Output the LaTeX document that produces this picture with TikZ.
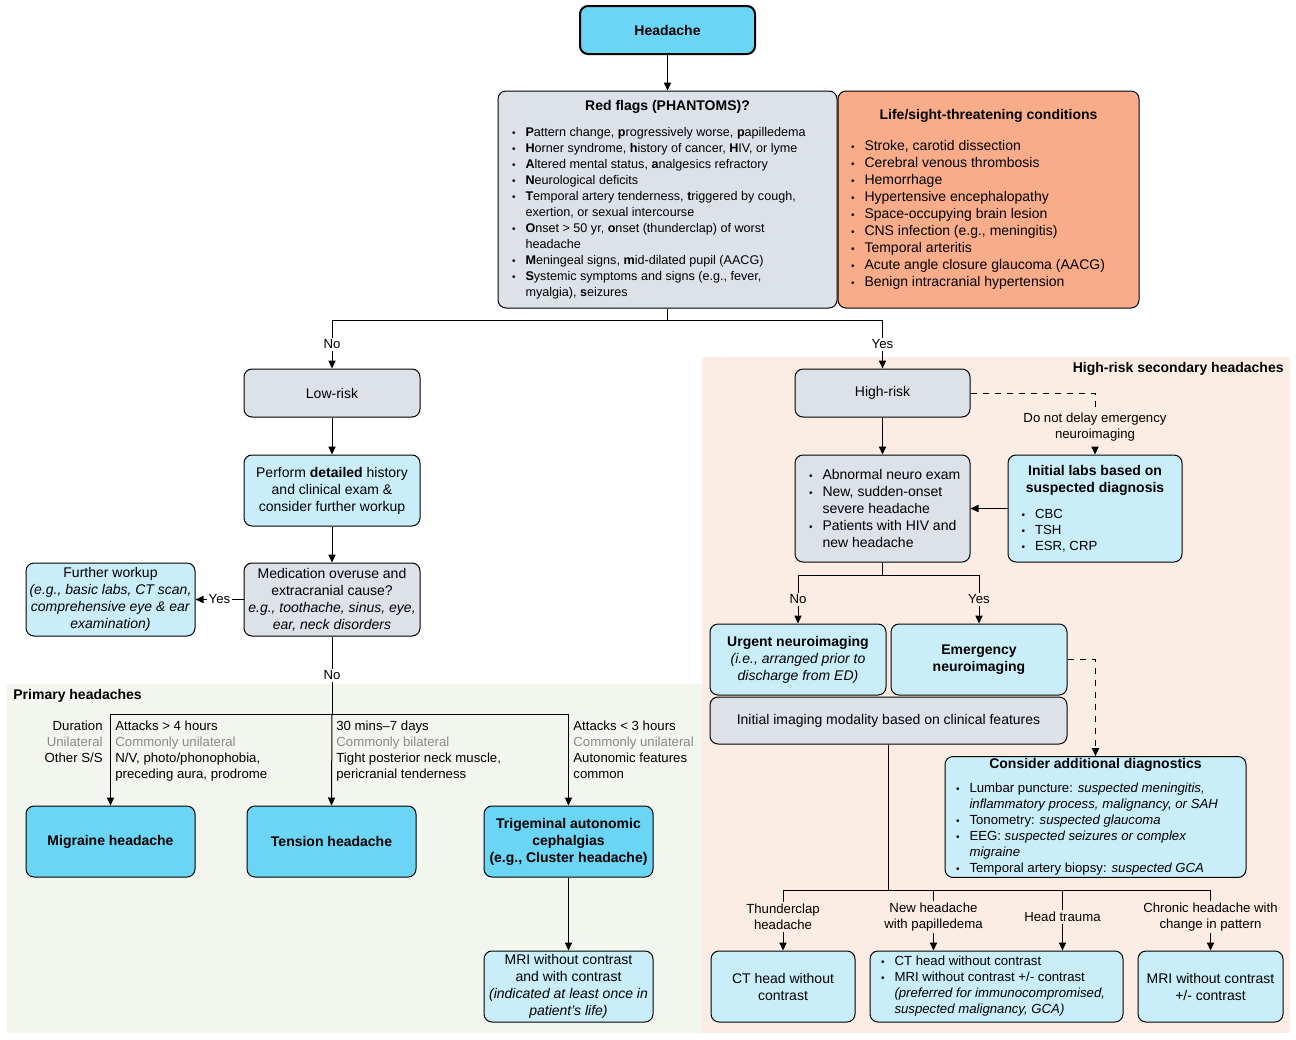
\documentclass[tikz,border=0pt]{standalone}
\usepackage{fontspec}
\setmainfont{Liberation Sans}
\usepackage{enumitem}
\usetikzlibrary{positioning,arrows.meta,backgrounds}

\definecolor{greyfill}{HTML}{DDE1E8}
\definecolor{paleblue}{HTML}{C9EEFA}
\definecolor{cyanbox}{HTML}{6BD5F5}
\definecolor{orangebox}{HTML}{F9AC8A}
\definecolor{pinkbg}{HTML}{FCEDE4}
\definecolor{greenbg}{HTML}{F3F6EF}
\definecolor{softgrey}{HTML}{8A8A8A}

\newcommand{\fs}{\fontsize{7}{8.5}\selectfont}
\newcommand{\fss}{\fontsize{6.3}{8}\selectfont}
\newcommand{\fsn}{\fontsize{6.6}{8}\selectfont}
\newcommand{\blist}[2][7pt]{\begin{itemize}[leftmargin=#1,itemsep=0pt,topsep=0pt,parsep=0pt,partopsep=0pt,label={\tiny\textbullet}]#2\end{itemize}}

\tikzset{
  box/.style={draw, rounded corners=4pt, line width=0.5pt, align=center, inner sep=1pt, font=\fs},
  grey/.style={box, fill=greyfill},
  pale/.style={box, fill=paleblue},
  strong/.style={box, fill=cyanbox, font=\fs\bfseries},
  arr/.style={-{Triangle[length=4pt,width=3.6pt]}, line width=0.5pt},
  lab/.style={font=\fsn, fill=white, inner sep=1pt, align=center},
  note/.style={font=\fsn, inner sep=0pt, align=left}
}

\begin{document}
\begin{tikzpicture}[x=0.5pt,y=-0.5pt]
\useasboundingbox (0,0) rectangle (1296,1039);

% shaded regions
\fill[pinkbg] (702,357) rectangle (1290,1033);
\fill[greenbg] (7,684) rectangle (702,1033);
\node[font=\fs\bfseries, anchor=north east, inner sep=0pt] (hrtitle) at (1284,362) {High-risk secondary headaches};
\node[font=\fs\bfseries, anchor=north west, inner sep=0pt] (primtitle) at (13,689) {Primary headaches};

% top
\node[strong, line width=1pt, minimum width=87.5pt, minimum height=24pt] (head) at (667.5,30) {Headache};
\node[grey, minimum width=169.5pt, minimum height=108.5pt] (flags) at (667.5,199.5) {\begin{minipage}{158pt}\centering
  \textbf{Red flags (PHANTOMS)?}\par\vspace{5pt}\fss\raggedright
  \blist[8pt]{
  \item \textbf{P}attern change, \textbf{p}rogressively worse, \textbf{p}apilledema
  \item \textbf{H}orner syndrome, \textbf{h}istory of cancer, \textbf{H}IV, or lyme
  \item \textbf{A}ltered mental status, \textbf{a}nalgesics refractory
  \item \textbf{N}eurological deficits
  \item \textbf{T}emporal artery tenderness, \textbf{t}riggered by cough,\newline exertion, or sexual intercourse
  \item \textbf{O}nset > 50 yr, \textbf{o}nset (thunderclap) of worst\newline headache
  \item \textbf{M}eningeal signs, \textbf{m}id-dilated pupil (AACG)
  \item \textbf{S}ystemic symptoms and signs (e.g., fever,\newline myalgia), \textbf{s}eizures}
  \end{minipage}};
\node[box, fill=orangebox, minimum width=150.5pt, minimum height=108.5pt] (threat) at (988.5,199.5) {\begin{minipage}{140pt}\centering
  \textbf{Life/sight-threatening conditions}\par\vspace{7pt}\raggedright
  \blist[8pt]{
  \item Stroke, carotid dissection
  \item Cerebral venous thrombosis
  \item Hemorrhage
  \item Hypertensive encephalopathy
  \item Space-occupying brain lesion
  \item CNS infection (e.g., meningitis)
  \item Temporal arteritis
  \item Acute angle closure glaucoma (AACG)
  \item Benign intracranial hypertension}
  \end{minipage}};

% low-risk branch
\node[grey, minimum width=88pt, minimum height=24pt] (low) at (332,393) {Low-risk};
\node[pale, minimum width=88pt, minimum height=35.5pt] (detail) at (332,490.5) {Perform \textbf{detailed} history\\and clinical exam \&\\consider further workup};
\node[grey, minimum width=88pt, minimum height=36.5pt] (med) at (332,599.5) {Medication overuse and\\extracranial cause?\\\textit{e.g., toothache, sinus, eye,}\\\textit{ear, neck disorders}};
\node[pale, minimum width=84.5pt, minimum height=36.5pt] (further) at (110.5,599.5) {Further workup\\\textit{(e.g., basic labs, CT scan,}\\\textit{comprehensive eye \& ear}\\\textit{examination)}};

% primary headaches
\node[strong, minimum width=84.5pt, minimum height=35.5pt] (migraine) at (110.5,841.5) {Migraine headache};
\node[strong, minimum width=84.5pt, minimum height=35.5pt] (tension) at (331.5,841.5) {Tension headache};
\node[strong, minimum width=84.5pt, minimum height=35.5pt] (tac) at (568.5,841.5) {Trigeminal autonomic\\cephalgias\\(e.g., Cluster headache)};
\node[pale, minimum width=84.5pt, minimum height=35.5pt] (mrileft) at (568.5,986.5) {MRI without contrast\\and with contrast\\\textit{(indicated at least once in}\\\textit{patient's life)}};

\node[note, anchor=north east, align=right] (keys) at (103,721) {Duration\\\textcolor{softgrey}{Unilateral}\\Other S/S};
\node[note, anchor=north west] (migtext) at (115,721) {Attacks > 4 hours\\\textcolor{softgrey}{Commonly unilateral}\\N/V, photo/phonophobia,\\preceding aura, prodrome};
\node[note, anchor=north west] (tentext) at (336,721) {30 mins--7 days\\\textcolor{softgrey}{Commonly bilateral}\\Tight posterior neck muscle,\\pericranial tenderness};
\node[note, anchor=north west] (tactext) at (573,721) {Attacks < 3 hours\\\textcolor{softgrey}{Commonly unilateral}\\Autonomic features\\common};

% high-risk branch
\node[grey, minimum width=87.5pt, minimum height=24pt] (high) at (882.5,393) {High-risk};
\node[grey, minimum width=87.5pt, minimum height=53.5pt] (abnormal) at (882.5,508.5) {\begin{minipage}{80pt}\raggedright
  \blist[10pt]{\item Abnormal neuro exam \item New, sudden-onset\newline severe headache \item Patients with HIV and\newline new headache}\end{minipage}};
\node[pale, minimum width=87pt, minimum height=53.5pt] (labs) at (1095,508.5) {\begin{minipage}{80pt}\centering
  \textbf{Initial labs based on}\\\textbf{suspected diagnosis}\par\vspace{5pt}\raggedright\fsn
  \blist[10pt]{\item CBC \item TSH \item ESR, CRP}\end{minipage}};
\node[pale, minimum width=88pt, minimum height=35.5pt] (urgent) at (798,659.5) {\textbf{Urgent neuroimaging}\\\textit{(i.e., arranged prior to}\\\textit{discharge from ED)}};
\node[pale, minimum width=88pt, minimum height=35.5pt] (emergency) at (979,659.5) {\textbf{Emergency}\\\textbf{neuroimaging}};
\node[grey, minimum width=178.5pt, minimum height=23.5pt] (imaging) at (888.5,720.5) {Initial imaging modality based on clinical features};
\node[pale, minimum width=150.5pt, minimum height=60pt] (consider) at (1095.5,817) {\begin{minipage}{142pt}\centering
  \textbf{Consider additional diagnostics}\par\vspace{4pt}\raggedright\fsn
  \blist[8pt]{\item Lumbar puncture: \textit{suspected meningitis,}\newline\textit{inflammatory process, malignancy, or SAH}
  \item Tonometry: \textit{suspected glaucoma}
  \item EEG: \textit{suspected seizures or complex migraine}
  \item Temporal artery biopsy: \textit{suspected GCA}}\end{minipage}};
\node[pale, minimum width=72pt, minimum height=35.5pt] (ct) at (783,986.5) {CT head without\\contrast};
\node[pale, minimum width=126.5pt, minimum height=35.5pt] (both) at (996.5,986.5) {\begin{minipage}{118pt}\raggedright\fsn
  \blist[8pt]{\item CT head without contrast \item MRI without contrast +/- contrast\newline\textit{(preferred for immunocompromised,}\newline\textit{suspected malignancy, GCA)}}\end{minipage}};
\node[pale, minimum width=72.5pt, minimum height=35.5pt] (mriright) at (1210.5,986.5) {MRI without contrast\\+/- contrast};

% connectors
\draw[arr] (head) -- (flags);
\draw (flags.south) -- ++(0,12) coordinate (split1);
\draw[arr] (split1) -| node[lab, pos=0.75] {No} (low.north);
\draw[arr] (split1) -| node[lab, pos=0.75] {Yes} (high.north);
\draw[arr] (low) -- (detail);
\draw[arr] (detail) -- (med);
\draw[arr] (med.west) -- node[lab] {Yes} (further.east);
\draw (med.south) -- node[lab] {No} ++(0,78) coordinate (split2);
\draw[arr] (split2) -| (migraine.north);
\draw[arr] (split2) -| (tac.north);
\draw[arr] (split2) -- (tension.north);
\draw[arr] (tac) -- (mrileft);

\draw[arr] (high) -- (abnormal);
\draw[arr, dashed] (high.east) -| node[lab, fill=pinkbg, pos=0.78] {Do not delay emergency\\neuroimaging} (labs.north);
\draw[arr] (labs) -- (abnormal);
\draw (abnormal.south) -- ++(0,13) coordinate (split3);
\draw[arr] (split3) -| node[lab, fill=pinkbg, pos=0.75] {No} (urgent.north);
\draw[arr] (split3) -| node[lab, fill=pinkbg, pos=0.75] {Yes} (emergency.north);
\draw[arr, dashed] (emergency.east) -| (consider.north);
\draw (imaging.south) -- ++(0,146) coordinate (split4);
\draw[arr] (split4) -| node[lab, fill=pinkbg, pos=0.72] {Thunderclap\\headache} (ct.north);
\draw[arr] (split4) -| node[lab, fill=pinkbg, pos=0.72] {New headache\\with papilledema} ([xshift=-31.5pt]both.north);
\draw[arr] (split4) -| node[lab, fill=pinkbg, pos=0.72] {Head trauma} ([xshift=33pt]both.north);
\draw[arr] (split4) -| node[lab, fill=pinkbg, pos=0.72] {Chronic headache with\\change in pattern} (mriright.north);
\end{tikzpicture}
\end{document}
